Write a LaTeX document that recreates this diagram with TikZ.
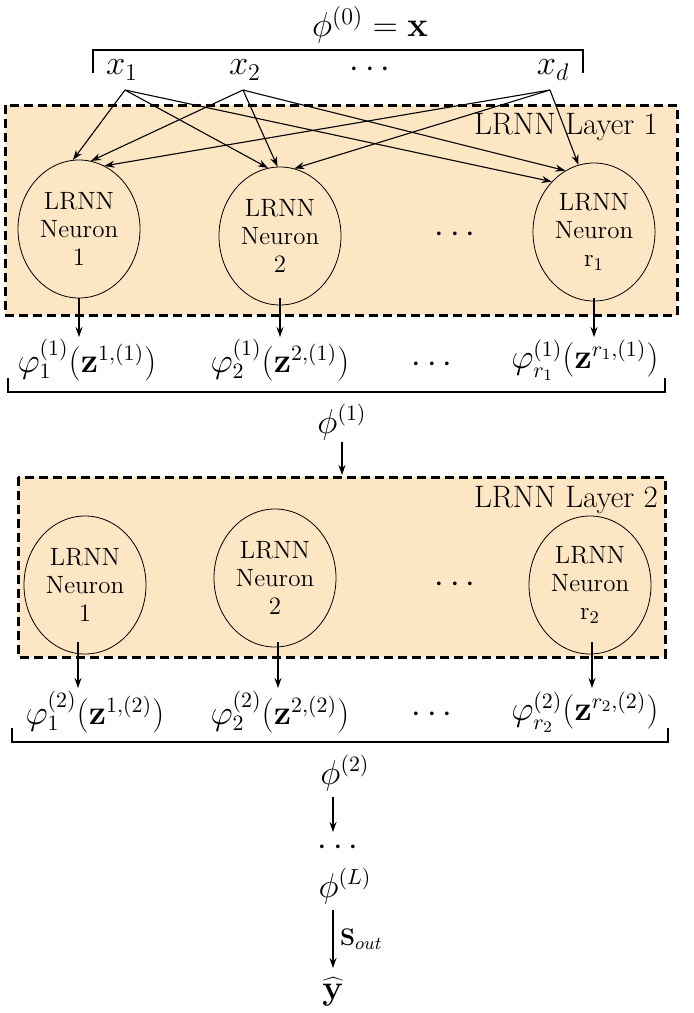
\documentclass[tikz,border=0pt]{standalone}
\usetikzlibrary{arrows.meta,shapes.geometric}
\definecolor{layerfill}{HTML}{FDE6C4}
\begin{document}
\begin{tikzpicture}[x=0.5pt,y=-0.5pt,
  every node/.style={font=\fontsize{11}{13}\selectfont},
  neuron/.style={draw,ellipse,minimum width=61pt,minimum height=69pt,align=center,inner sep=0pt,font=\fontsize{12.5}{14}\selectfont},
  layer/.style={draw,fill=layerfill,line width=1.5pt,dash pattern=on 4.5pt off 2.5pt},
  arr/.style={-{Stealth[length=5pt,width=3.5pt]},line width=0.55pt},
  brk/.style={line width=0.6pt},
  lbl/.style={font=\fontsize{16}{18}\selectfont},
  big/.style={font=\fontsize{17.5}{20}\selectfont}]
\useasboundingbox (0,0) rectangle (693,1013);
% top
\node[big] (p0) at (370,25) {$\phi^{(0)}=\mathbf{x}$};
\draw[brk] (93,73) -- (93,50) -- (583,50) -- (583,73);
\node[big] (x1) at (122,70) {$x_1$};
\node[big] (x2) at (245,70) {$x_2$};
\node[big] (xdots) at (370,70) {$\cdots$};
\node[big] (xd) at (553,70) {$x_d$};
\coordinate (s1) at (125,90); \coordinate (s2) at (243,90); \coordinate (sd) at (550,90);
% layer 1
\path[layer] (5,105) rectangle (677,315);
\node[font=\fontsize{15.5}{18}\selectfont] (L1) at (566,127) {LRNN Layer 1};
\node[neuron] (n1) at (79,229) {LRNN\\Neuron\\1};
\node[neuron] (n2) at (280,236) {LRNN\\Neuron\\2};
\node[neuron] (nr) at (594,232) {LRNN\\Neuron\\r$_1$};
\node[lbl] (d1) at (455,235) {$\cdots$};
\draw[arr] (s1) -- (n1.95);
\draw[arr] (s2) -- (n1.80);
\draw[arr] (sd) -- (n1.68);
\draw[arr] (s1) -- (n2.100);
\draw[arr] (s2) -- (n2.92);
\draw[arr] (sd) -- (n2.78);
\draw[arr] (s1) -- (nr.130);
\draw[arr] (s2) -- (nr.115);
\draw[arr] (sd) -- (nr.103);
% outputs 1
\node[lbl] (f11) at (87,360) {$\varphi_1^{(1)}(\mathbf{z}^{1,(1)})$};
\node[lbl] (f12) at (280,360) {$\varphi_2^{(1)}(\mathbf{z}^{2,(1)})$};
\node[lbl] (f1d) at (432,365) {$\cdots$};
\node[lbl] (f1r) at (585,360) {$\varphi_{r_1}^{(1)}(\mathbf{z}^{r_1,(1)})$};
\coordinate (a1) at (79,298); \coordinate (a2) at (280,298); \coordinate (ar) at (594,298);
\draw[arr] (a1) -- (79,337);
\draw[arr] (a2) -- (280,337);
\draw[arr] (ar) -- (594,337);
\draw[brk] (8,378) -- (8,392) -- (665,392) -- (665,378);
\node[lbl] (p1) at (342,422) {$\phi^{(1)}$};
% layer 2
\path[layer] (18,477) rectangle (665,657);
\node[font=\fontsize{15.5}{18}\selectfont] (L2) at (566,500) {LRNN Layer 2};
\draw[arr] (342,442) -- (342,475);
\node[neuron] (m1) at (85,585) {LRNN\\Neuron\\1};
\node[neuron] (m2) at (275,578) {LRNN\\Neuron\\2};
\node[neuron] (mr) at (590,585) {LRNN\\Neuron\\r$_2$};
\node[lbl] (d2) at (455,585) {$\cdots$};
% outputs 2
\node[lbl] (f21) at (95,712) {$\varphi_1^{(2)}(\mathbf{z}^{1,(2)})$};
\node[lbl] (f22) at (280,712) {$\varphi_2^{(2)}(\mathbf{z}^{2,(2)})$};
\node[lbl] (f2d) at (432,715) {$\cdots$};
\node[lbl] (f2r) at (585,712) {$\varphi_{r_2}^{(2)}(\mathbf{z}^{r_2,(2)})$};
\draw[arr] (78,642) -- (78,688);
\draw[arr] (278,642) -- (278,688);
\draw[arr] (592,642) -- (592,688);
\draw[brk] (12,728) -- (12,742) -- (668,742) -- (668,728);
\node[lbl] (p2) at (345,773) {$\phi^{(2)}$};
\node[lbl] (dd) at (338,848) {$\cdots$};
\draw[arr] (333,797) -- (333,832);
\node[lbl] (pL) at (345,886) {$\phi^{(L)}$};
\node[lbl] (y) at (333,992) {$\widehat{\mathbf{y}}$};
\draw[arr] (333,910) -- (333,968) node[midway,right,font=\fontsize{13}{15}\selectfont] {$\mathbf{S}_{out}$};
\end{tikzpicture}
\end{document}
